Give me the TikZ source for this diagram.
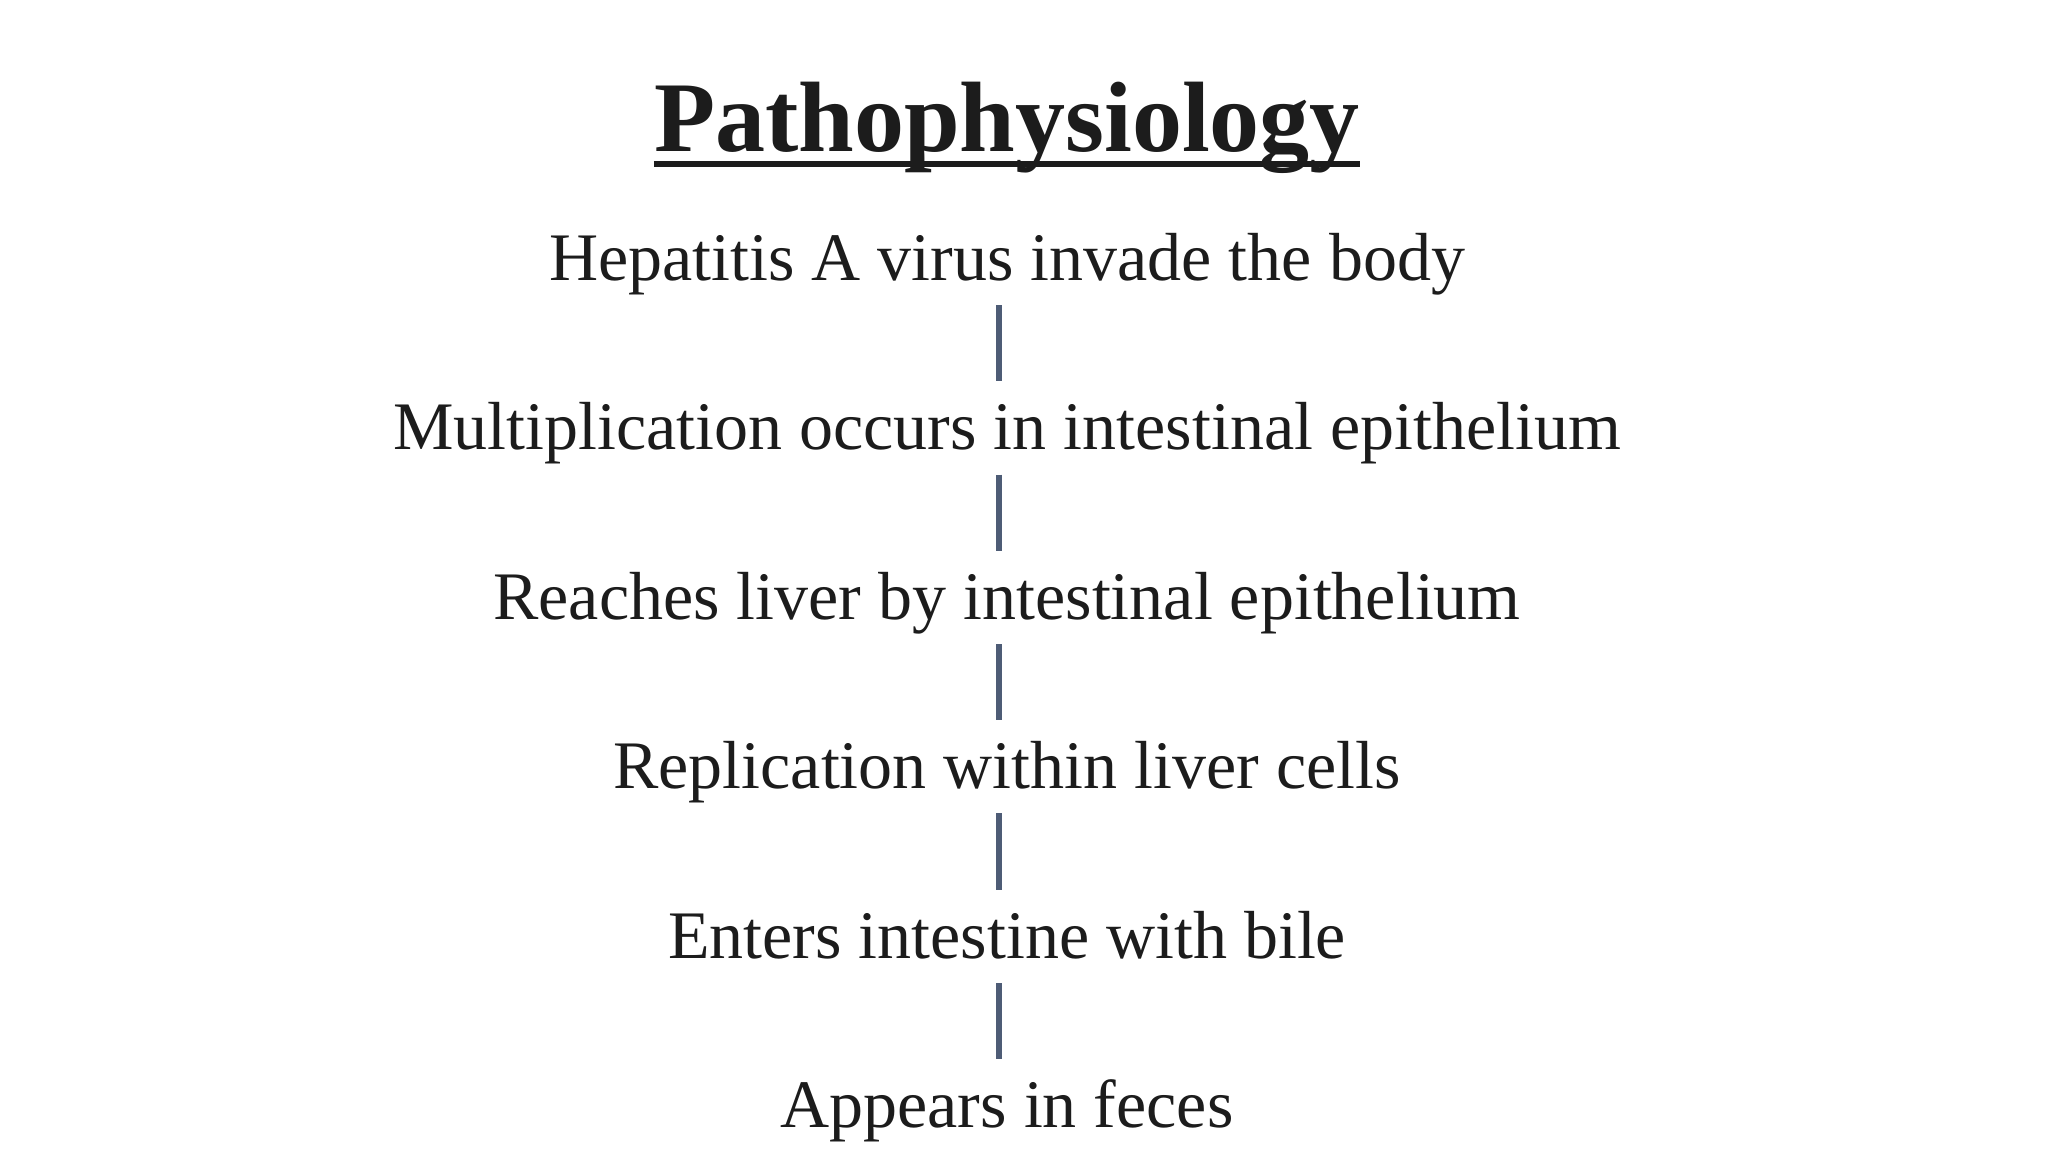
\documentclass[tikz,border=0pt]{standalone}
\usepackage{fontspec}
\setmainfont{Liberation Serif}
\definecolor{stepink}{RGB}{28,28,28}
\definecolor{linkblue}{RGB}{78,92,118}
\tikzset{
	stage/.style={font=\fontsize{68}{80}\selectfont, text=stepink, inner sep=5pt, text height=48pt, text depth=17pt, anchor=base},
	link/.style={draw=linkblue, line width=6pt, shorten <=3pt, shorten >=15pt}
}
\begin{document}
\begin{tikzpicture}[x=1pt, y=-1pt]
		\useasboundingbox (0,0) rectangle (2048,1152);
		%title
		\node[font=\fontsize{100}{112}\bfseries, text=stepink, inner sep=0pt, anchor=base] (title) at (1007, 151){Pathophysiology};
		\draw[line width=6pt, stepink] ([yshift=-13pt]title.base west)--([yshift=-13pt]title.base east);
		
		%stages
		\node[stage] (s1) at (1007, 280){Hepatitis A virus invade the body};
		\node[stage] (s2) at (1007, 449.5){Multiplication occurs in intestinal epithelium};
		\node[stage] (s3) at (1007, 619){Reaches liver by intestinal epithelium};
		\node[stage] (s4) at (1007, 788){Replication within liver cells};
		\node[stage] (s5) at (1007, 958){Enters intestine with bile};
		\node[stage] (s6) at (1007, 1127){Appears in feces};
		
		\foreach \a/\b in {s1/s2, s2/s3, s3/s4, s4/s5, s5/s6}{
			\draw[link] ([xshift=-8pt]\a.south)--([xshift=-8pt]\b.north);
		}
		\end{tikzpicture}
\end{document}
